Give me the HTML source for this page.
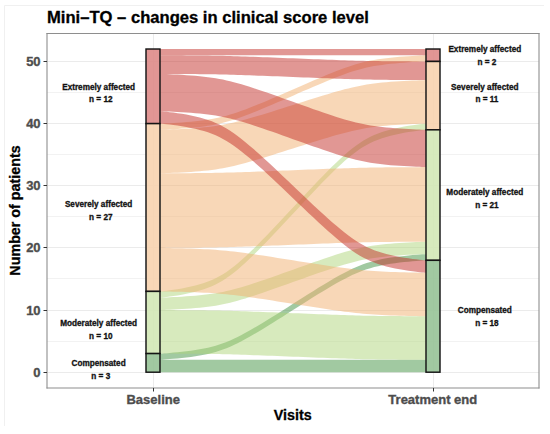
<!DOCTYPE html>
<html><head><meta charset="utf-8"><style>
html,body{margin:0;padding:0;background:#fff;}
body{width:550px;height:434px;overflow:hidden;}
svg{display:block;}
text{font-family:"Liberation Sans",sans-serif;font-weight:bold;}
.sl{font-size:8.20px;fill:#111;stroke:#111;stroke-width:0.3px;}
.ax{font-size:13px;fill:#4D4D4D;stroke:#4D4D4D;stroke-width:0.35px;}
.ttl{font-size:16.6px;fill:#000;stroke:#000;stroke-width:0.3px;}
.at{font-size:14.3px;fill:#000;stroke:#000;stroke-width:0.3px;}
</style></head><body>
<svg width="550" height="434" viewBox="0 0 550 434">
<rect width="550" height="434" fill="#fff"/>
<line x1="4.5" x2="544" y1="5.5" y2="5.5" stroke="#F0F0F0" stroke-width="1"/>
<line x1="4.5" x2="4.5" y1="5.5" y2="426" stroke="#F0F0F0" stroke-width="1"/>
<text x="47" y="23" class="ttl">Mini&#8211;TQ &#8211; changes in clinical score level</text>
<line x1="47.0" x2="539.0" y1="372.50" y2="372.50" stroke="#EBEBEB" stroke-width="1"/>
<line x1="47.0" x2="539.0" y1="341.50" y2="341.50" stroke="#F2F2F2" stroke-width="1"/>
<line x1="47.0" x2="539.0" y1="310.50" y2="310.50" stroke="#EBEBEB" stroke-width="1"/>
<line x1="47.0" x2="539.0" y1="278.50" y2="278.50" stroke="#F2F2F2" stroke-width="1"/>
<line x1="47.0" x2="539.0" y1="247.50" y2="247.50" stroke="#EBEBEB" stroke-width="1"/>
<line x1="47.0" x2="539.0" y1="216.50" y2="216.50" stroke="#F2F2F2" stroke-width="1"/>
<line x1="47.0" x2="539.0" y1="185.50" y2="185.50" stroke="#EBEBEB" stroke-width="1"/>
<line x1="47.0" x2="539.0" y1="154.50" y2="154.50" stroke="#F2F2F2" stroke-width="1"/>
<line x1="47.0" x2="539.0" y1="123.50" y2="123.50" stroke="#EBEBEB" stroke-width="1"/>
<line x1="47.0" x2="539.0" y1="92.50" y2="92.50" stroke="#F2F2F2" stroke-width="1"/>
<line x1="47.0" x2="539.0" y1="61.50" y2="61.50" stroke="#EBEBEB" stroke-width="1"/>
<line x1="153.5" x2="153.5" y1="33.50" y2="388.00" stroke="#EBEBEB" stroke-width="1"/>
<line x1="433.5" x2="433.5" y1="33.50" y2="388.00" stroke="#EBEBEB" stroke-width="1"/>
<polygon points="159.99,353.56 160.00,353.56 160.04,353.55 160.31,353.54 160.98,353.50 162.21,353.43 164.07,353.32 166.60,353.14 169.74,352.91 173.41,352.60 177.50,352.23 181.86,351.79 186.36,351.28 190.89,350.70 195.36,350.06 199.72,349.34 203.92,348.56 207.97,347.71 211.87,346.77 215.64,345.74 219.32,344.60 222.93,343.36 226.53,341.98 230.15,340.47 233.82,338.80 237.58,336.98 241.45,335.00 245.44,332.87 249.57,330.57 253.86,328.11 258.31,325.49 262.91,322.72 267.67,319.81 272.55,316.78 277.56,313.64 282.65,310.42 287.81,307.14 293.00,303.84 298.19,300.53 303.35,297.25 308.44,294.03 313.45,290.89 318.33,287.86 323.09,284.95 327.69,282.18 332.14,279.56 336.43,277.10 340.56,274.80 344.55,272.67 348.42,270.69 352.18,268.87 355.85,267.20 359.47,265.69 363.07,264.31 366.68,263.07 370.36,261.93 374.13,260.90 378.03,259.96 382.08,259.11 386.28,258.33 390.64,257.61 395.11,256.97 399.64,256.39 404.14,255.88 408.50,255.44 412.59,255.07 416.26,254.76 419.40,254.53 421.93,254.35 423.79,254.24 425.02,254.17 425.69,254.13 425.96,254.12 426.00,254.12 426.01,254.12 426.01,260.33 426.00,260.33 425.96,260.33 425.69,260.34 425.02,260.38 423.79,260.45 421.93,260.57 419.40,260.74 416.26,260.98 412.59,261.28 408.50,261.65 404.14,262.10 399.64,262.61 395.11,263.19 390.64,263.83 386.28,264.54 382.08,265.32 378.03,266.18 374.13,267.12 370.36,268.15 366.68,269.28 363.07,270.53 359.47,271.90 355.85,273.42 352.18,275.08 348.42,276.90 344.55,278.88 340.56,281.02 336.43,283.31 332.14,285.78 327.69,288.39 323.09,291.16 318.33,294.07 313.45,297.11 308.44,300.25 303.35,303.47 298.19,306.74 293.00,310.05 287.81,313.36 282.65,316.63 277.56,319.85 272.55,322.99 267.67,326.03 262.91,328.94 258.31,331.71 253.86,334.32 249.57,336.79 245.44,339.08 241.45,341.22 237.58,343.20 233.82,345.02 230.15,346.68 226.53,348.20 222.93,349.57 219.32,350.82 215.64,351.95 211.87,352.98 207.97,353.92 203.92,354.78 199.72,355.56 195.36,356.27 190.89,356.91 186.36,357.49 181.86,358.00 177.50,358.45 173.41,358.82 169.74,359.12 166.60,359.36 164.07,359.53 162.21,359.65 160.98,359.72 160.31,359.76 160.04,359.77 160.00,359.77 159.99,359.77" fill="#439343" fill-opacity="0.500"/>
<polygon points="159.99,359.77 160.00,359.77 160.04,359.77 160.31,359.77 160.98,359.77 162.21,359.77 164.07,359.77 166.60,359.77 169.74,359.77 173.41,359.77 177.50,359.77 181.86,359.77 186.36,359.77 190.89,359.77 195.36,359.77 199.72,359.77 203.92,359.77 207.97,359.77 211.87,359.77 215.64,359.77 219.32,359.77 222.93,359.77 226.53,359.77 230.15,359.77 233.82,359.77 237.58,359.77 241.45,359.77 245.44,359.77 249.57,359.77 253.86,359.77 258.31,359.77 262.91,359.77 267.67,359.77 272.55,359.77 277.56,359.77 282.65,359.77 287.81,359.77 293.00,359.77 298.19,359.77 303.35,359.77 308.44,359.77 313.45,359.77 318.33,359.77 323.09,359.77 327.69,359.77 332.14,359.77 336.43,359.77 340.56,359.77 344.55,359.77 348.42,359.77 352.18,359.77 355.85,359.77 359.47,359.77 363.07,359.77 366.68,359.77 370.36,359.77 374.13,359.77 378.03,359.77 382.08,359.77 386.28,359.77 390.64,359.77 395.11,359.77 399.64,359.77 404.14,359.77 408.50,359.77 412.59,359.77 416.26,359.77 419.40,359.77 421.93,359.77 423.79,359.77 425.02,359.77 425.69,359.77 425.96,359.77 426.00,359.77 426.01,359.77 426.01,372.20 426.00,372.20 425.96,372.20 425.69,372.20 425.02,372.20 423.79,372.20 421.93,372.20 419.40,372.20 416.26,372.20 412.59,372.20 408.50,372.20 404.14,372.20 399.64,372.20 395.11,372.20 390.64,372.20 386.28,372.20 382.08,372.20 378.03,372.20 374.13,372.20 370.36,372.20 366.68,372.20 363.07,372.20 359.47,372.20 355.85,372.20 352.18,372.20 348.42,372.20 344.55,372.20 340.56,372.20 336.43,372.20 332.14,372.20 327.69,372.20 323.09,372.20 318.33,372.20 313.45,372.20 308.44,372.20 303.35,372.20 298.19,372.20 293.00,372.20 287.81,372.20 282.65,372.20 277.56,372.20 272.55,372.20 267.67,372.20 262.91,372.20 258.31,372.20 253.86,372.20 249.57,372.20 245.44,372.20 241.45,372.20 237.58,372.20 233.82,372.20 230.15,372.20 226.53,372.20 222.93,372.20 219.32,372.20 215.64,372.20 211.87,372.20 207.97,372.20 203.92,372.20 199.72,372.20 195.36,372.20 190.89,372.20 186.36,372.20 181.86,372.20 177.50,372.20 173.41,372.20 169.74,372.20 166.60,372.20 164.07,372.20 162.21,372.20 160.98,372.20 160.31,372.20 160.04,372.20 160.00,372.20 159.99,372.20" fill="#439343" fill-opacity="0.500"/>
<polygon points="159.99,291.40 160.00,291.40 160.04,291.40 160.31,291.38 160.98,291.32 162.21,291.20 164.07,291.00 166.60,290.71 169.74,290.31 173.41,289.80 177.50,289.17 181.86,288.42 186.36,287.56 190.89,286.59 195.36,285.50 199.72,284.30 203.92,282.98 207.97,281.53 211.87,279.95 215.64,278.21 219.32,276.30 222.93,274.20 226.53,271.88 230.15,269.32 233.82,266.51 237.58,263.44 241.45,260.10 245.44,256.50 249.57,252.62 253.86,248.47 258.31,244.05 262.91,239.37 267.67,234.46 272.55,229.34 277.56,224.04 282.65,218.61 287.81,213.08 293.00,207.50 298.19,201.92 303.35,196.40 308.44,190.96 313.45,185.66 318.33,180.54 323.09,175.63 327.69,170.96 332.14,166.54 336.43,162.39 340.56,158.51 344.55,154.90 348.42,151.57 352.18,148.49 355.85,145.68 359.47,143.13 363.07,140.81 366.68,138.70 370.36,136.79 374.13,135.06 378.03,133.47 382.08,132.03 386.28,130.71 390.64,129.51 395.11,128.42 399.64,127.44 404.14,126.58 408.50,125.83 412.59,125.20 416.26,124.69 419.40,124.29 421.93,124.00 423.79,123.80 425.02,123.69 425.69,123.62 425.96,123.60 426.00,123.60 426.01,123.60 426.01,129.81 426.00,129.81 425.96,129.82 425.69,129.84 425.02,129.90 423.79,130.02 421.93,130.22 419.40,130.51 416.26,130.91 412.59,131.42 408.50,132.05 404.14,132.80 399.64,133.66 395.11,134.63 390.64,135.72 386.28,136.92 382.08,138.24 378.03,139.69 374.13,141.27 370.36,143.01 366.68,144.92 363.07,147.02 359.47,149.34 355.85,151.90 352.18,154.71 348.42,157.78 344.55,161.12 340.56,164.72 336.43,168.60 332.14,172.75 327.69,177.17 323.09,181.85 318.33,186.76 313.45,191.88 308.44,197.18 303.35,202.61 298.19,208.14 293.00,213.72 287.81,219.30 282.65,224.82 277.56,230.26 272.55,235.56 267.67,240.68 262.91,245.59 258.31,250.26 253.86,254.68 249.57,258.83 245.44,262.71 241.45,266.32 237.58,269.65 233.82,272.73 230.15,275.54 226.53,278.09 222.93,280.41 219.32,282.52 215.64,284.43 211.87,286.16 207.97,287.75 203.92,289.19 199.72,290.51 195.36,291.71 190.89,292.80 186.36,293.78 181.86,294.64 177.50,295.39 173.41,296.02 169.74,296.53 166.60,296.93 164.07,297.22 162.21,297.42 160.98,297.53 160.31,297.60 160.04,297.62 160.00,297.62 159.99,297.62" fill="#AFD57B" fill-opacity="0.500"/>
<polygon points="159.99,297.62 160.00,297.62 160.04,297.62 160.31,297.61 160.98,297.59 162.21,297.55 164.07,297.49 166.60,297.39 169.74,297.26 173.41,297.09 177.50,296.88 181.86,296.63 186.36,296.34 190.89,296.01 195.36,295.65 199.72,295.25 203.92,294.81 207.97,294.33 211.87,293.80 215.64,293.22 219.32,292.59 222.93,291.88 226.53,291.11 230.15,290.26 233.82,289.32 237.58,288.30 241.45,287.19 245.44,285.98 249.57,284.69 253.86,283.31 258.31,281.83 262.91,280.28 267.67,278.64 272.55,276.93 277.56,275.17 282.65,273.35 287.81,271.51 293.00,269.65 298.19,267.79 303.35,265.95 308.44,264.14 313.45,262.37 318.33,260.67 323.09,259.03 327.69,257.47 332.14,256.00 336.43,254.61 340.56,253.32 344.55,252.12 348.42,251.01 352.18,249.98 355.85,249.05 359.47,248.19 363.07,247.42 366.68,246.72 370.36,246.08 374.13,245.50 378.03,244.98 382.08,244.49 386.28,244.05 390.64,243.65 395.11,243.29 399.64,242.97 404.14,242.68 408.50,242.43 412.59,242.22 416.26,242.05 419.40,241.92 421.93,241.82 423.79,241.75 425.02,241.71 425.69,241.69 425.96,241.69 426.00,241.69 426.01,241.69 426.01,254.12 426.00,254.12 425.96,254.12 425.69,254.12 425.02,254.14 423.79,254.18 421.93,254.25 419.40,254.35 416.26,254.48 412.59,254.65 408.50,254.86 404.14,255.11 399.64,255.40 395.11,255.72 390.64,256.08 386.28,256.48 382.08,256.92 378.03,257.41 374.13,257.93 370.36,258.51 366.68,259.15 363.07,259.85 359.47,260.62 355.85,261.48 352.18,262.41 348.42,263.44 344.55,264.55 340.56,265.75 336.43,267.04 332.14,268.43 327.69,269.90 323.09,271.46 318.33,273.10 313.45,274.80 308.44,276.57 303.35,278.38 298.19,280.22 293.00,282.08 287.81,283.94 282.65,285.78 277.56,287.60 272.55,289.36 267.67,291.07 262.91,292.71 258.31,294.26 253.86,295.74 249.57,297.12 245.44,298.41 241.45,299.62 237.58,300.73 233.82,301.75 230.15,302.69 226.53,303.54 222.93,304.31 219.32,305.02 215.64,305.65 211.87,306.23 207.97,306.76 203.92,307.24 199.72,307.68 195.36,308.08 190.89,308.44 186.36,308.77 181.86,309.06 177.50,309.31 173.41,309.52 169.74,309.69 166.60,309.82 164.07,309.92 162.21,309.98 160.98,310.02 160.31,310.04 160.04,310.05 160.00,310.05 159.99,310.05" fill="#AFD57B" fill-opacity="0.500"/>
<polygon points="159.99,310.05 160.00,310.05 160.04,310.05 160.31,310.05 160.98,310.05 162.21,310.06 164.07,310.06 166.60,310.08 169.74,310.09 173.41,310.11 177.50,310.13 181.86,310.16 186.36,310.19 190.89,310.23 195.36,310.27 199.72,310.31 203.92,310.36 207.97,310.42 211.87,310.47 215.64,310.54 219.32,310.61 222.93,310.69 226.53,310.77 230.15,310.87 233.82,310.97 237.58,311.09 241.45,311.21 245.44,311.34 249.57,311.49 253.86,311.64 258.31,311.80 262.91,311.98 267.67,312.16 272.55,312.35 277.56,312.54 282.65,312.75 287.81,312.95 293.00,313.16 298.19,313.36 303.35,313.57 308.44,313.77 313.45,313.97 318.33,314.16 323.09,314.34 327.69,314.51 332.14,314.67 336.43,314.83 340.56,314.97 344.55,315.11 348.42,315.23 352.18,315.34 355.85,315.45 359.47,315.54 363.07,315.63 366.68,315.71 370.36,315.78 374.13,315.84 378.03,315.90 382.08,315.95 386.28,316.00 390.64,316.05 395.11,316.09 399.64,316.12 404.14,316.15 408.50,316.18 412.59,316.21 416.26,316.22 419.40,316.24 421.93,316.25 423.79,316.26 425.02,316.26 425.69,316.26 425.96,316.26 426.00,316.26 426.01,316.26 426.01,359.77 426.00,359.77 425.96,359.77 425.69,359.77 425.02,359.77 423.79,359.76 421.93,359.76 419.40,359.74 416.26,359.73 412.59,359.71 408.50,359.69 404.14,359.66 399.64,359.63 395.11,359.59 390.64,359.55 386.28,359.51 382.08,359.46 378.03,359.40 374.13,359.35 370.36,359.28 366.68,359.21 363.07,359.13 359.47,359.05 355.85,358.95 352.18,358.85 348.42,358.73 344.55,358.61 340.56,358.48 336.43,358.33 332.14,358.18 327.69,358.02 323.09,357.84 318.33,357.66 313.45,357.47 308.44,357.28 303.35,357.07 298.19,356.87 293.00,356.66 287.81,356.46 282.65,356.25 277.56,356.05 272.55,355.85 267.67,355.66 262.91,355.48 258.31,355.31 253.86,355.15 249.57,354.99 245.44,354.85 241.45,354.71 237.58,354.59 233.82,354.48 230.15,354.37 226.53,354.28 222.93,354.19 219.32,354.11 215.64,354.04 211.87,353.98 207.97,353.92 203.92,353.87 199.72,353.82 195.36,353.77 190.89,353.73 186.36,353.70 181.86,353.67 177.50,353.64 173.41,353.61 169.74,353.60 166.60,353.58 164.07,353.57 162.21,353.56 160.98,353.56 160.31,353.56 160.04,353.56 160.00,353.56 159.99,353.56" fill="#AFD57B" fill-opacity="0.500"/>
<polygon points="159.99,123.60 160.00,123.60 160.04,123.60 160.31,123.59 160.98,123.57 162.21,123.52 164.07,123.44 166.60,123.32 169.74,123.16 173.41,122.95 177.50,122.69 181.86,122.39 186.36,122.03 190.89,121.64 195.36,121.19 199.72,120.70 203.92,120.17 207.97,119.58 211.87,118.93 215.64,118.22 219.32,117.45 222.93,116.59 226.53,115.64 230.15,114.60 233.82,113.46 237.58,112.21 241.45,110.85 245.44,109.38 249.57,107.80 253.86,106.11 258.31,104.31 262.91,102.40 267.67,100.40 272.55,98.31 277.56,96.16 282.65,93.94 287.81,91.69 293.00,89.42 298.19,87.15 303.35,84.89 308.44,82.68 313.45,80.52 318.33,78.43 323.09,76.43 327.69,74.53 332.14,72.73 336.43,71.04 340.56,69.46 344.55,67.99 348.42,66.63 352.18,65.38 355.85,64.23 359.47,63.19 363.07,62.25 366.68,61.39 370.36,60.61 374.13,59.90 378.03,59.26 382.08,58.67 386.28,58.13 390.64,57.64 395.11,57.20 399.64,56.80 404.14,56.45 408.50,56.15 412.59,55.89 416.26,55.68 419.40,55.52 421.93,55.40 423.79,55.32 425.02,55.27 425.69,55.25 425.96,55.24 426.00,55.24 426.01,55.24 426.01,61.45 426.00,61.45 425.96,61.45 425.69,61.46 425.02,61.48 423.79,61.53 421.93,61.61 419.40,61.73 416.26,61.89 412.59,62.10 408.50,62.36 404.14,62.66 399.64,63.02 395.11,63.41 390.64,63.86 386.28,64.35 382.08,64.88 378.03,65.47 374.13,66.12 370.36,66.83 366.68,67.60 363.07,68.46 359.47,69.41 355.85,70.45 352.18,71.59 348.42,72.84 344.55,74.20 340.56,75.67 336.43,77.25 332.14,78.94 327.69,80.74 323.09,82.65 318.33,84.65 313.45,86.74 308.44,88.89 303.35,91.11 298.19,93.36 293.00,95.63 287.81,97.90 282.65,100.16 277.56,102.37 272.55,104.53 267.67,106.62 262.91,108.62 258.31,110.52 253.86,112.32 249.57,114.01 245.44,115.59 241.45,117.06 237.58,118.42 233.82,119.67 230.15,120.82 226.53,121.86 222.93,122.80 219.32,123.66 215.64,124.44 211.87,125.15 207.97,125.79 203.92,126.38 199.72,126.92 195.36,127.41 190.89,127.85 186.36,128.25 181.86,128.60 177.50,128.90 173.41,129.16 169.74,129.37 166.60,129.53 164.07,129.65 162.21,129.73 160.98,129.78 160.31,129.80 160.04,129.81 160.00,129.81 159.99,129.81" fill="#F1AF6F" fill-opacity="0.500"/>
<polygon points="159.99,129.81 160.00,129.81 160.04,129.81 160.31,129.81 160.98,129.79 162.21,129.75 164.07,129.70 166.60,129.61 169.74,129.49 173.41,129.34 177.50,129.15 181.86,128.93 186.36,128.68 190.89,128.39 195.36,128.07 199.72,127.71 203.92,127.32 207.97,126.89 211.87,126.42 215.64,125.91 219.32,125.34 222.93,124.72 226.53,124.03 230.15,123.27 233.82,122.44 237.58,121.53 241.45,120.54 245.44,119.47 249.57,118.32 253.86,117.09 258.31,115.78 262.91,114.40 267.67,112.94 272.55,111.43 277.56,109.86 282.65,108.25 287.81,106.61 293.00,104.95 298.19,103.30 303.35,101.66 308.44,100.05 313.45,98.48 318.33,96.97 323.09,95.51 327.69,94.13 332.14,92.82 336.43,91.59 340.56,90.44 344.55,89.37 348.42,88.38 352.18,87.47 355.85,86.64 359.47,85.88 363.07,85.19 366.68,84.57 370.36,84.00 374.13,83.49 378.03,83.02 382.08,82.59 386.28,82.20 390.64,81.84 395.11,81.52 399.64,81.23 404.14,80.98 408.50,80.76 412.59,80.57 416.26,80.42 419.40,80.30 421.93,80.21 423.79,80.16 425.02,80.12 425.69,80.10 425.96,80.10 426.00,80.09 426.01,80.09 426.01,123.60 426.00,123.60 425.96,123.60 425.69,123.61 425.02,123.63 423.79,123.66 421.93,123.72 419.40,123.81 416.26,123.92 412.59,124.08 408.50,124.26 404.14,124.48 399.64,124.74 395.11,125.03 390.64,125.35 386.28,125.71 382.08,126.10 378.03,126.52 374.13,126.99 370.36,127.51 366.68,128.08 363.07,128.70 359.47,129.39 355.85,130.14 352.18,130.98 348.42,131.89 344.55,132.88 340.56,133.94 336.43,135.09 332.14,136.32 327.69,137.63 323.09,139.02 318.33,140.47 313.45,141.99 308.44,143.56 303.35,145.17 298.19,146.81 293.00,148.46 287.81,150.11 282.65,151.75 277.56,153.36 272.55,154.93 267.67,156.45 262.91,157.90 258.31,159.29 253.86,160.60 249.57,161.83 245.44,162.98 241.45,164.04 237.58,165.03 233.82,165.94 230.15,166.78 226.53,167.53 222.93,168.22 219.32,168.84 215.64,169.41 211.87,169.93 207.97,170.40 203.92,170.82 199.72,171.21 195.36,171.57 190.89,171.89 186.36,172.18 181.86,172.44 177.50,172.66 173.41,172.84 169.74,173.00 166.60,173.11 164.07,173.20 162.21,173.26 160.98,173.29 160.31,173.31 160.04,173.32 160.00,173.32 159.99,173.32" fill="#F1AF6F" fill-opacity="0.500"/>
<polygon points="159.99,173.32 160.00,173.32 160.04,173.32 160.31,173.32 160.98,173.32 162.21,173.31 164.07,173.31 166.60,173.29 169.74,173.28 173.41,173.26 177.50,173.24 181.86,173.21 186.36,173.18 190.89,173.14 195.36,173.10 199.72,173.06 203.92,173.01 207.97,172.95 211.87,172.90 215.64,172.83 219.32,172.76 222.93,172.68 226.53,172.60 230.15,172.50 233.82,172.40 237.58,172.28 241.45,172.16 245.44,172.03 249.57,171.88 253.86,171.73 258.31,171.57 262.91,171.39 267.67,171.21 272.55,171.02 277.56,170.83 282.65,170.62 287.81,170.42 293.00,170.21 298.19,170.01 303.35,169.80 308.44,169.60 313.45,169.40 318.33,169.21 323.09,169.03 327.69,168.86 332.14,168.70 336.43,168.54 340.56,168.40 344.55,168.26 348.42,168.14 352.18,168.03 355.85,167.92 359.47,167.83 363.07,167.74 366.68,167.66 370.36,167.59 374.13,167.53 378.03,167.47 382.08,167.42 386.28,167.37 390.64,167.32 395.11,167.28 399.64,167.25 404.14,167.22 408.50,167.19 412.59,167.16 416.26,167.15 419.40,167.13 421.93,167.12 423.79,167.11 425.02,167.11 425.69,167.11 425.96,167.11 426.00,167.10 426.01,167.10 426.01,241.69 426.00,241.69 425.96,241.69 425.69,241.69 425.02,241.69 423.79,241.69 421.93,241.70 419.40,241.71 416.26,241.73 412.59,241.74 408.50,241.77 404.14,241.80 399.64,241.83 395.11,241.86 390.64,241.90 386.28,241.95 382.08,242.00 378.03,242.05 374.13,242.11 370.36,242.17 366.68,242.24 363.07,242.32 359.47,242.41 355.85,242.50 352.18,242.61 348.42,242.72 344.55,242.84 340.56,242.98 336.43,243.12 332.14,243.28 327.69,243.44 323.09,243.61 318.33,243.79 313.45,243.98 308.44,244.18 303.35,244.38 298.19,244.59 293.00,244.79 287.81,245.00 282.65,245.20 277.56,245.41 272.55,245.60 267.67,245.79 262.91,245.97 258.31,246.15 253.86,246.31 249.57,246.46 245.44,246.61 241.45,246.74 237.58,246.86 233.82,246.98 230.15,247.08 226.53,247.18 222.93,247.26 219.32,247.34 215.64,247.41 211.87,247.48 207.97,247.53 203.92,247.59 199.72,247.64 195.36,247.68 190.89,247.72 186.36,247.76 181.86,247.79 177.50,247.82 173.41,247.84 169.74,247.86 166.60,247.87 164.07,247.89 162.21,247.89 160.98,247.90 160.31,247.90 160.04,247.90 160.00,247.90 159.99,247.90" fill="#F1AF6F" fill-opacity="0.500"/>
<polygon points="159.99,247.90 160.00,247.90 160.04,247.90 160.31,247.90 160.98,247.91 162.21,247.93 164.07,247.96 166.60,248.00 169.74,248.06 173.41,248.14 177.50,248.23 181.86,248.34 186.36,248.47 190.89,248.61 195.36,248.77 199.72,248.95 203.92,249.15 207.97,249.36 211.87,249.60 215.64,249.85 219.32,250.14 222.93,250.45 226.53,250.79 230.15,251.17 233.82,251.59 237.58,252.04 241.45,252.54 245.44,253.07 249.57,253.65 253.86,254.26 258.31,254.92 262.91,255.61 267.67,256.34 272.55,257.09 277.56,257.88 282.65,258.68 287.81,259.50 293.00,260.33 298.19,261.16 303.35,261.98 308.44,262.78 313.45,263.57 318.33,264.32 323.09,265.05 327.69,265.74 332.14,266.40 336.43,267.01 340.56,267.59 344.55,268.12 348.42,268.62 352.18,269.07 355.85,269.49 359.47,269.87 363.07,270.21 366.68,270.52 370.36,270.81 374.13,271.06 378.03,271.30 382.08,271.51 386.28,271.71 390.64,271.89 395.11,272.05 399.64,272.19 404.14,272.32 408.50,272.43 412.59,272.52 416.26,272.60 419.40,272.66 421.93,272.70 423.79,272.73 425.02,272.75 425.69,272.76 425.96,272.76 426.00,272.76 426.01,272.76 426.01,316.26 426.00,316.26 425.96,316.26 425.69,316.26 425.02,316.25 423.79,316.23 421.93,316.21 419.40,316.16 416.26,316.10 412.59,316.03 408.50,315.93 404.14,315.82 399.64,315.70 395.11,315.55 390.64,315.39 386.28,315.21 382.08,315.02 378.03,314.80 374.13,314.57 370.36,314.31 366.68,314.03 363.07,313.72 359.47,313.37 355.85,312.99 352.18,312.58 348.42,312.12 344.55,311.63 340.56,311.09 336.43,310.52 332.14,309.90 327.69,309.25 323.09,308.56 318.33,307.83 313.45,307.07 308.44,306.29 303.35,305.48 298.19,304.66 293.00,303.83 287.81,303.01 282.65,302.19 277.56,301.38 272.55,300.60 267.67,299.84 262.91,299.11 258.31,298.42 253.86,297.77 249.57,297.15 245.44,296.58 241.45,296.04 237.58,295.55 233.82,295.09 230.15,294.68 226.53,294.30 222.93,293.95 219.32,293.64 215.64,293.36 211.87,293.10 207.97,292.87 203.92,292.65 199.72,292.46 195.36,292.28 190.89,292.12 186.36,291.97 181.86,291.85 177.50,291.74 173.41,291.64 169.74,291.57 166.60,291.51 164.07,291.46 162.21,291.44 160.98,291.42 160.31,291.41 160.04,291.41 160.00,291.40 159.99,291.40" fill="#F1AF6F" fill-opacity="0.500"/>
<polygon points="159.99,49.02 160.00,49.02 160.04,49.02 160.31,49.02 160.98,49.02 162.21,49.02 164.07,49.02 166.60,49.02 169.74,49.02 173.41,49.02 177.50,49.02 181.86,49.02 186.36,49.02 190.89,49.02 195.36,49.02 199.72,49.02 203.92,49.02 207.97,49.02 211.87,49.02 215.64,49.02 219.32,49.02 222.93,49.02 226.53,49.02 230.15,49.02 233.82,49.02 237.58,49.02 241.45,49.02 245.44,49.02 249.57,49.02 253.86,49.02 258.31,49.02 262.91,49.02 267.67,49.02 272.55,49.02 277.56,49.02 282.65,49.02 287.81,49.02 293.00,49.02 298.19,49.02 303.35,49.02 308.44,49.02 313.45,49.02 318.33,49.02 323.09,49.02 327.69,49.02 332.14,49.02 336.43,49.02 340.56,49.02 344.55,49.02 348.42,49.02 352.18,49.02 355.85,49.02 359.47,49.02 363.07,49.02 366.68,49.02 370.36,49.02 374.13,49.02 378.03,49.02 382.08,49.02 386.28,49.02 390.64,49.02 395.11,49.02 399.64,49.02 404.14,49.02 408.50,49.02 412.59,49.02 416.26,49.02 419.40,49.02 421.93,49.02 423.79,49.02 425.02,49.02 425.69,49.02 425.96,49.02 426.00,49.02 426.01,49.02 426.01,55.24 426.00,55.24 425.96,55.24 425.69,55.24 425.02,55.24 423.79,55.24 421.93,55.24 419.40,55.24 416.26,55.24 412.59,55.24 408.50,55.24 404.14,55.24 399.64,55.24 395.11,55.24 390.64,55.24 386.28,55.24 382.08,55.24 378.03,55.24 374.13,55.24 370.36,55.24 366.68,55.24 363.07,55.24 359.47,55.24 355.85,55.24 352.18,55.24 348.42,55.24 344.55,55.24 340.56,55.24 336.43,55.24 332.14,55.24 327.69,55.24 323.09,55.24 318.33,55.24 313.45,55.24 308.44,55.24 303.35,55.24 298.19,55.24 293.00,55.24 287.81,55.24 282.65,55.24 277.56,55.24 272.55,55.24 267.67,55.24 262.91,55.24 258.31,55.24 253.86,55.24 249.57,55.24 245.44,55.24 241.45,55.24 237.58,55.24 233.82,55.24 230.15,55.24 226.53,55.24 222.93,55.24 219.32,55.24 215.64,55.24 211.87,55.24 207.97,55.24 203.92,55.24 199.72,55.24 195.36,55.24 190.89,55.24 186.36,55.24 181.86,55.24 177.50,55.24 173.41,55.24 169.74,55.24 166.60,55.24 164.07,55.24 162.21,55.24 160.98,55.24 160.31,55.24 160.04,55.24 160.00,55.24 159.99,55.24" fill="#C32F29" fill-opacity="0.500"/>
<polygon points="159.99,55.24 160.00,55.24 160.04,55.24 160.31,55.24 160.98,55.24 162.21,55.24 164.07,55.25 166.60,55.26 169.74,55.28 173.41,55.29 177.50,55.32 181.86,55.35 186.36,55.38 190.89,55.41 195.36,55.45 199.72,55.50 203.92,55.55 207.97,55.60 211.87,55.66 215.64,55.72 219.32,55.79 222.93,55.87 226.53,55.96 230.15,56.05 233.82,56.16 237.58,56.27 241.45,56.39 245.44,56.53 249.57,56.67 253.86,56.83 258.31,56.99 262.91,57.16 267.67,57.34 272.55,57.53 277.56,57.73 282.65,57.93 287.81,58.14 293.00,58.34 298.19,58.55 303.35,58.75 308.44,58.96 313.45,59.15 318.33,59.34 323.09,59.52 327.69,59.70 332.14,59.86 336.43,60.01 340.56,60.16 344.55,60.29 348.42,60.41 352.18,60.53 355.85,60.63 359.47,60.73 363.07,60.81 366.68,60.89 370.36,60.96 374.13,61.03 378.03,61.08 382.08,61.14 386.28,61.19 390.64,61.23 395.11,61.27 399.64,61.31 404.14,61.34 408.50,61.37 412.59,61.39 416.26,61.41 419.40,61.42 421.93,61.44 423.79,61.44 425.02,61.45 425.69,61.45 425.96,61.45 426.00,61.45 426.01,61.45 426.01,80.09 426.00,80.09 425.96,80.09 425.69,80.09 425.02,80.09 423.79,80.09 421.93,80.08 419.40,80.07 416.26,80.05 412.59,80.04 408.50,80.01 404.14,79.98 399.64,79.95 395.11,79.92 390.64,79.88 386.28,79.83 382.08,79.78 378.03,79.73 374.13,79.67 370.36,79.61 366.68,79.54 363.07,79.46 359.47,79.37 355.85,79.28 352.18,79.17 348.42,79.06 344.55,78.94 340.56,78.80 336.43,78.66 332.14,78.50 327.69,78.34 323.09,78.17 318.33,77.99 313.45,77.80 308.44,77.60 303.35,77.40 298.19,77.19 293.00,76.99 287.81,76.78 282.65,76.58 277.56,76.37 272.55,76.18 267.67,75.99 262.91,75.81 258.31,75.63 253.86,75.47 249.57,75.32 245.44,75.17 241.45,75.04 237.58,74.92 233.82,74.80 230.15,74.70 226.53,74.60 222.93,74.52 219.32,74.44 215.64,74.37 211.87,74.30 207.97,74.25 203.92,74.19 199.72,74.14 195.36,74.10 190.89,74.06 186.36,74.02 181.86,73.99 177.50,73.96 173.41,73.94 169.74,73.92 166.60,73.91 164.07,73.89 162.21,73.89 160.98,73.88 160.31,73.88 160.04,73.88 160.00,73.88 159.99,73.88" fill="#C32F29" fill-opacity="0.500"/>
<polygon points="159.99,73.88 160.00,73.88 160.04,73.88 160.31,73.89 160.98,73.91 162.21,73.95 164.07,74.01 166.60,74.11 169.74,74.24 173.41,74.41 177.50,74.62 181.86,74.87 186.36,75.16 190.89,75.49 195.36,75.85 199.72,76.25 203.92,76.69 207.97,77.17 211.87,77.70 215.64,78.28 219.32,78.91 222.93,79.62 226.53,80.39 230.15,81.24 233.82,82.18 237.58,83.20 241.45,84.31 245.44,85.52 249.57,86.81 253.86,88.19 258.31,89.67 262.91,91.22 267.67,92.86 272.55,94.57 277.56,96.33 282.65,98.15 287.81,99.99 293.00,101.85 298.19,103.71 303.35,105.55 308.44,107.36 313.45,109.13 318.33,110.83 323.09,112.47 327.69,114.03 332.14,115.50 336.43,116.89 340.56,118.18 344.55,119.38 348.42,120.49 352.18,121.52 355.85,122.45 359.47,123.31 363.07,124.08 366.68,124.78 370.36,125.42 374.13,126.00 378.03,126.52 382.08,127.01 386.28,127.45 390.64,127.85 395.11,128.21 399.64,128.53 404.14,128.82 408.50,129.07 412.59,129.28 416.26,129.45 419.40,129.58 421.93,129.68 423.79,129.75 425.02,129.79 425.69,129.81 425.96,129.81 426.00,129.81 426.01,129.81 426.01,167.10 426.00,167.10 425.96,167.10 425.69,167.10 425.02,167.08 423.79,167.04 421.93,166.97 419.40,166.87 416.26,166.74 412.59,166.57 408.50,166.36 404.14,166.11 399.64,165.82 395.11,165.50 390.64,165.14 386.28,164.74 382.08,164.30 378.03,163.81 374.13,163.29 370.36,162.71 366.68,162.07 363.07,161.37 359.47,160.60 355.85,159.74 352.18,158.81 348.42,157.78 344.55,156.67 340.56,155.47 336.43,154.18 332.14,152.79 327.69,151.32 323.09,149.76 318.33,148.12 313.45,146.42 308.44,144.65 303.35,142.84 298.19,141.00 293.00,139.14 287.81,137.28 282.65,135.44 277.56,133.62 272.55,131.86 267.67,130.15 262.91,128.51 258.31,126.96 253.86,125.48 249.57,124.10 245.44,122.81 241.45,121.60 237.58,120.49 233.82,119.47 230.15,118.53 226.53,117.68 222.93,116.91 219.32,116.20 215.64,115.57 211.87,114.99 207.97,114.46 203.92,113.98 199.72,113.54 195.36,113.14 190.89,112.78 186.36,112.45 181.86,112.16 177.50,111.91 173.41,111.70 169.74,111.53 166.60,111.40 164.07,111.30 162.21,111.24 160.98,111.20 160.31,111.18 160.04,111.17 160.00,111.17 159.99,111.17" fill="#C32F29" fill-opacity="0.500"/>
<polygon points="159.99,111.17 160.00,111.17 160.04,111.17 160.31,111.19 160.98,111.25 162.21,111.35 164.07,111.53 166.60,111.79 169.74,112.14 173.41,112.60 177.50,113.16 181.86,113.82 186.36,114.59 190.89,115.45 195.36,116.42 199.72,117.49 203.92,118.66 207.97,119.94 211.87,121.35 215.64,122.90 219.32,124.60 222.93,126.47 226.53,128.53 230.15,130.80 233.82,133.30 237.58,136.03 241.45,139.00 245.44,142.20 249.57,145.65 253.86,149.34 258.31,153.27 262.91,157.42 267.67,161.79 272.55,166.34 277.56,171.05 282.65,175.88 287.81,180.79 293.00,185.75 298.19,190.71 303.35,195.62 308.44,200.45 313.45,205.16 318.33,209.71 323.09,214.08 327.69,218.23 332.14,222.16 336.43,225.85 340.56,229.30 344.55,232.50 348.42,235.47 352.18,238.20 355.85,240.70 359.47,242.97 363.07,245.03 366.68,246.90 370.36,248.60 374.13,250.15 378.03,251.56 382.08,252.84 386.28,254.01 390.64,255.08 395.11,256.05 399.64,256.91 404.14,257.68 408.50,258.34 412.59,258.90 416.26,259.36 419.40,259.71 421.93,259.97 423.79,260.15 425.02,260.25 425.69,260.31 425.96,260.33 426.00,260.33 426.01,260.33 426.01,272.76 426.00,272.76 425.96,272.76 425.69,272.74 425.02,272.68 423.79,272.58 421.93,272.40 419.40,272.14 416.26,271.79 412.59,271.33 408.50,270.77 404.14,270.11 399.64,269.34 395.11,268.48 390.64,267.51 386.28,266.44 382.08,265.27 378.03,263.99 374.13,262.58 370.36,261.03 366.68,259.33 363.07,257.46 359.47,255.40 355.85,253.13 352.18,250.63 348.42,247.90 344.55,244.93 340.56,241.73 336.43,238.28 332.14,234.59 327.69,230.66 323.09,226.51 318.33,222.14 313.45,217.59 308.44,212.88 303.35,208.05 298.19,203.14 293.00,198.18 287.81,193.22 282.65,188.31 277.56,183.48 272.55,178.77 267.67,174.22 262.91,169.85 258.31,165.70 253.86,161.77 249.57,158.08 245.44,154.63 241.45,151.43 237.58,148.46 233.82,145.73 230.15,143.23 226.53,140.96 222.93,138.90 219.32,137.03 215.64,135.33 211.87,133.78 207.97,132.37 203.92,131.09 199.72,129.92 195.36,128.85 190.89,127.88 186.36,127.02 181.86,126.25 177.50,125.59 173.41,125.03 169.74,124.57 166.60,124.22 164.07,123.96 162.21,123.78 160.98,123.68 160.31,123.62 160.04,123.60 160.00,123.60 159.99,123.60" fill="#C32F29" fill-opacity="0.500"/>
<rect x="146.00" y="49.02" width="14.00" height="74.58" fill="#DE8B88" fill-opacity="0.900" stroke="#151515" stroke-width="1.45"/>
<rect x="426.00" y="49.02" width="14.00" height="12.43" fill="#DE8B88" fill-opacity="0.900" stroke="#151515" stroke-width="1.45"/>
<rect x="146.00" y="123.60" width="14.00" height="167.80" fill="#F7D3AF" fill-opacity="0.900" stroke="#151515" stroke-width="1.45"/>
<rect x="426.00" y="61.45" width="14.00" height="68.37" fill="#F7D3AF" fill-opacity="0.900" stroke="#151515" stroke-width="1.45"/>
<rect x="146.00" y="291.40" width="14.00" height="62.15" fill="#D3E8B6" fill-opacity="0.900" stroke="#151515" stroke-width="1.45"/>
<rect x="426.00" y="129.81" width="14.00" height="130.51" fill="#D3E8B6" fill-opacity="0.900" stroke="#151515" stroke-width="1.45"/>
<rect x="146.00" y="353.56" width="14.00" height="18.64" fill="#97C397" fill-opacity="0.900" stroke="#151515" stroke-width="1.45"/>
<rect x="426.00" y="260.33" width="14.00" height="111.87" fill="#97C397" fill-opacity="0.900" stroke="#151515" stroke-width="1.45"/>
<text x="98.6" y="89.5" text-anchor="middle" class="sl">Extremely affected</text><text x="100.8" y="101.9" text-anchor="middle" class="sl">n = 12</text>
<text x="98.6" y="207.3" text-anchor="middle" class="sl">Severely affected</text><text x="100.8" y="220.0" text-anchor="middle" class="sl">n = 27</text>
<text x="98.6" y="326.0" text-anchor="middle" class="sl">Moderately affected</text><text x="100.8" y="338.7" text-anchor="middle" class="sl">n = 10</text>
<text x="98.6" y="366.4" text-anchor="middle" class="sl">Compensated</text><text x="100.8" y="378.7" text-anchor="middle" class="sl">n = 3</text>
<text x="484.8" y="52.2" text-anchor="middle" class="sl">Extremely affected</text><text x="486.9" y="64.9" text-anchor="middle" class="sl">n = 2</text>
<text x="484.8" y="89.5" text-anchor="middle" class="sl">Severely affected</text><text x="486.9" y="101.9" text-anchor="middle" class="sl">n = 11</text>
<text x="484.8" y="195.3" text-anchor="middle" class="sl">Moderately affected</text><text x="486.9" y="208.0" text-anchor="middle" class="sl">n = 21</text>
<text x="484.8" y="313.2" text-anchor="middle" class="sl">Compensated</text><text x="486.9" y="325.9" text-anchor="middle" class="sl">n = 18</text>
<g stroke="#8E8E8E" stroke-width="1.1" fill="none">
<line x1="46.5" x2="539.5" y1="33.5" y2="33.5"/>
<line x1="47" x2="47" y1="33" y2="388.5"/>
<line x1="539" x2="539" y1="33" y2="388.5"/>
<line x1="46.5" x2="539.5" y1="388" y2="388"/>
</g>
<line x1="43.5" x2="47" y1="372.50" y2="372.50" stroke="#333" stroke-width="1"/>
<text x="40.6" y="377.00" text-anchor="end" class="ax">0</text>
<line x1="43.5" x2="47" y1="310.50" y2="310.50" stroke="#333" stroke-width="1"/>
<text x="40.6" y="315.00" text-anchor="end" class="ax">10</text>
<line x1="43.5" x2="47" y1="247.50" y2="247.50" stroke="#333" stroke-width="1"/>
<text x="40.6" y="252.00" text-anchor="end" class="ax">20</text>
<line x1="43.5" x2="47" y1="185.50" y2="185.50" stroke="#333" stroke-width="1"/>
<text x="40.6" y="190.00" text-anchor="end" class="ax">30</text>
<line x1="43.5" x2="47" y1="123.50" y2="123.50" stroke="#333" stroke-width="1"/>
<text x="40.6" y="128.00" text-anchor="end" class="ax">40</text>
<line x1="43.5" x2="47" y1="61.50" y2="61.50" stroke="#333" stroke-width="1"/>
<text x="40.6" y="66.00" text-anchor="end" class="ax">50</text>
<line x1="153.5" x2="153.5" y1="388" y2="391.5" stroke="#333" stroke-width="1"/>
<line x1="433.5" x2="433.5" y1="388" y2="391.5" stroke="#333" stroke-width="1"/>
<text x="153.2" y="403.6" text-anchor="middle" class="ax">Baseline</text>
<text x="432.8" y="403.6" text-anchor="middle" class="ax">Treatment end</text>
<text x="292.8" y="419.7" text-anchor="middle" class="at">Visits</text>
<text transform="translate(19.8,210.5) rotate(-90)" text-anchor="middle" class="at">Number of patients</text>
</svg>
</body></html>
